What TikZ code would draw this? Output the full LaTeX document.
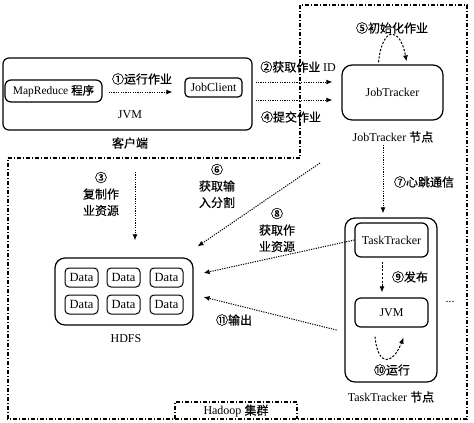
\documentclass[tikz,border=0pt]{standalone}
\usepackage{fontspec}
\setmainfont{Liberation Serif}
\newfontfamily\cjk{Noto Sans CJK SC}[FakeBold=0.5]
\usetikzlibrary{arrows.meta}
\begin{document}
\begin{tikzpicture}[x=1pt,y=-1pt,
  box/.style={draw, rounded corners=6pt, line width=1.2pt, inner sep=0pt, font=\fontsize{12}{14}\selectfont},
  databox/.style={draw, rounded corners=4pt, line width=1pt, inner sep=0pt, minimum width=33pt, minimum height=19pt, font=\fontsize{12.5}{14}\selectfont},
  conn/.style={dash pattern=on 1.2pt off 1.2pt, line width=1pt, -{Latex[length=6pt,width=5pt]}},
  loopconn/.style={dash pattern=on 2.2pt off 1.6pt, line width=1pt, -{Latex[length=6pt,width=5pt]}},
  lbl/.style={font=\cjk\fontsize{12}{16.5}\selectfont, inner sep=0pt, align=center},
  txt/.style={font=\fontsize{12}{14}\selectfont, inner sep=0pt},
  framel/.style={dash pattern=on 4pt off 2pt on 1pt off 2pt, line width=1.1pt}
]
\useasboundingbox (0,0) rectangle (474,423);

% client
\node[box, minimum width=249pt, minimum height=72pt] (client) at (127.5,94) {};
\node[box, minimum width=97pt, minimum height=22pt, font=\fontsize{11.5}{14}\selectfont] (mr) at (53.5,91) {MapReduce {\cjk 程序}};
\node[box, minimum width=57pt, minimum height=19pt, rounded corners=4pt] (jc) at (213.5,87.5) {JobClient};
\node[txt] (jvm1) at (130,115) {JVM};
\node[lbl] (clientlbl) at (130,143) {客户端};
\node[lbl] (l1) at (142,79) {①运行作业};
\draw[conn] ([yshift=-1pt]mr.east) ++(6,0) coordinate (a1s) -- (a1s -| jc.west) [shorten >=12pt];

% cluster frame
\draw[framel] (8,158) -- (300,158) -- (300,5) -- (467,5) -- (467,419) -- (8,419) -- cycle;
\draw[framel] (175,419) -- (175,402) -- (297,402) -- (297,419);
\node[txt] (hadoop) at (236,411) {Hadoop {\cjk 集群}};

% jobtracker
\node[box, rounded corners=10pt, minimum width=101pt, minimum height=55pt] (jt) at (392.5,92.5) {JobTracker};
\node[txt] (jtlbl) at (393,137) {JobTracker {\cjk 节点}};
\node[lbl] (l5) at (392,28) {⑤初始化作业};
\draw[loopconn] ([xshift=-14pt,yshift=2pt]jt.north) .. controls +(4,-38) and +(-6,-34) .. ([xshift=14pt,yshift=3pt]jt.north);

\draw[conn, shorten <=3pt, shorten >=9pt] ([yshift=12pt]client.east) -- ([yshift=12pt]client.east -| jt.west);
\draw[conn, shorten <=3pt, shorten >=9pt] ([yshift=-6pt]client.east) -- ([yshift=-6pt]client.east -| jt.west);
\node[lbl] (l2) at (298,67) {②获取作业 {\fontspec{Liberation Serif}ID}};
\node[lbl] (l4) at (291,117) {④提交作业};

% tasktracker
\node[box, rounded corners=10pt, minimum width=92pt, minimum height=164pt] (ttn) at (391,300) {};
\node[box, minimum width=73pt, minimum height=34pt] (tti) at (391.5,240) {TaskTracker};
\node[box, minimum width=73pt, minimum height=29pt] (jvm2) at (391.5,312.5) {JVM};
\node[txt] (ttlbl) at (391,397) {TaskTracker {\cjk 节点}};
\node[txt] (dots) at (450,302) {...};
\coordinate (a7) at (383,145);
\draw[conn, shorten >=4pt] (a7) -- (a7 |- ttn.north);
\node[lbl] (l7) at (424,182) {⑦心跳通信};
\draw[loopconn, shorten <=4pt, shorten >=5pt] ([xshift=-9.5pt]tti.south) -- ([xshift=-9.5pt]jvm2.south |- jvm2.north);
\node[lbl] (l9) at (410,277) {⑨发布};
\draw[loopconn] ([xshift=-16.5pt,yshift=-9pt]jvm2.south) .. controls +(3,32) and +(-10,26) .. ([xshift=12pt,yshift=-10pt]jvm2.south);
\node[lbl] (l10) at (392,370) {⑩运行};

% HDFS
\node[box, rounded corners=10pt, minimum width=138pt, minimum height=67pt] (hdfs) at (124,291.5) {};
\node[databox] (d1) at (81.5,277.5) {Data};
\node[databox] (d2) at (123.5,277.5) {Data};
\node[databox] (d3) at (166.5,277.5) {Data};
\node[databox] (d4) at (81.5,304.5) {Data};
\node[databox] (d5) at (123.5,304.5) {Data};
\node[databox] (d6) at (166.5,304.5) {Data};
\node[txt] (hdfslbl) at (126,339) {HDFS};

% arrows to HDFS
\coordinate (a3) at (135,172);
\draw[conn, shorten >=17pt] (a3) -- (a3 |- hdfs.north);
\node[lbl] (l3) at (101,194) {③\\复制作\\业资源};
\coordinate (a6) at (320,163);
\draw[conn] (a6) -- ([xshift=4pt,yshift=11pt]hdfs.north east);
\node[lbl] (l6) at (217,186) {⑥\\获取输\\入分割};
\draw[conn] (tti.west) -- ([xshift=10pt,yshift=18.5pt]hdfs.east);
\node[lbl] (l8) at (277,230) {⑧\\获取作\\业资源};
\draw[conn, shorten <=8pt] ([yshift=-32pt]ttn.west) -- ([xshift=10pt,yshift=-5.5pt]hdfs.east);
\node[lbl] (l11) at (234,320) {⑪输出};
\end{tikzpicture}
\end{document}
